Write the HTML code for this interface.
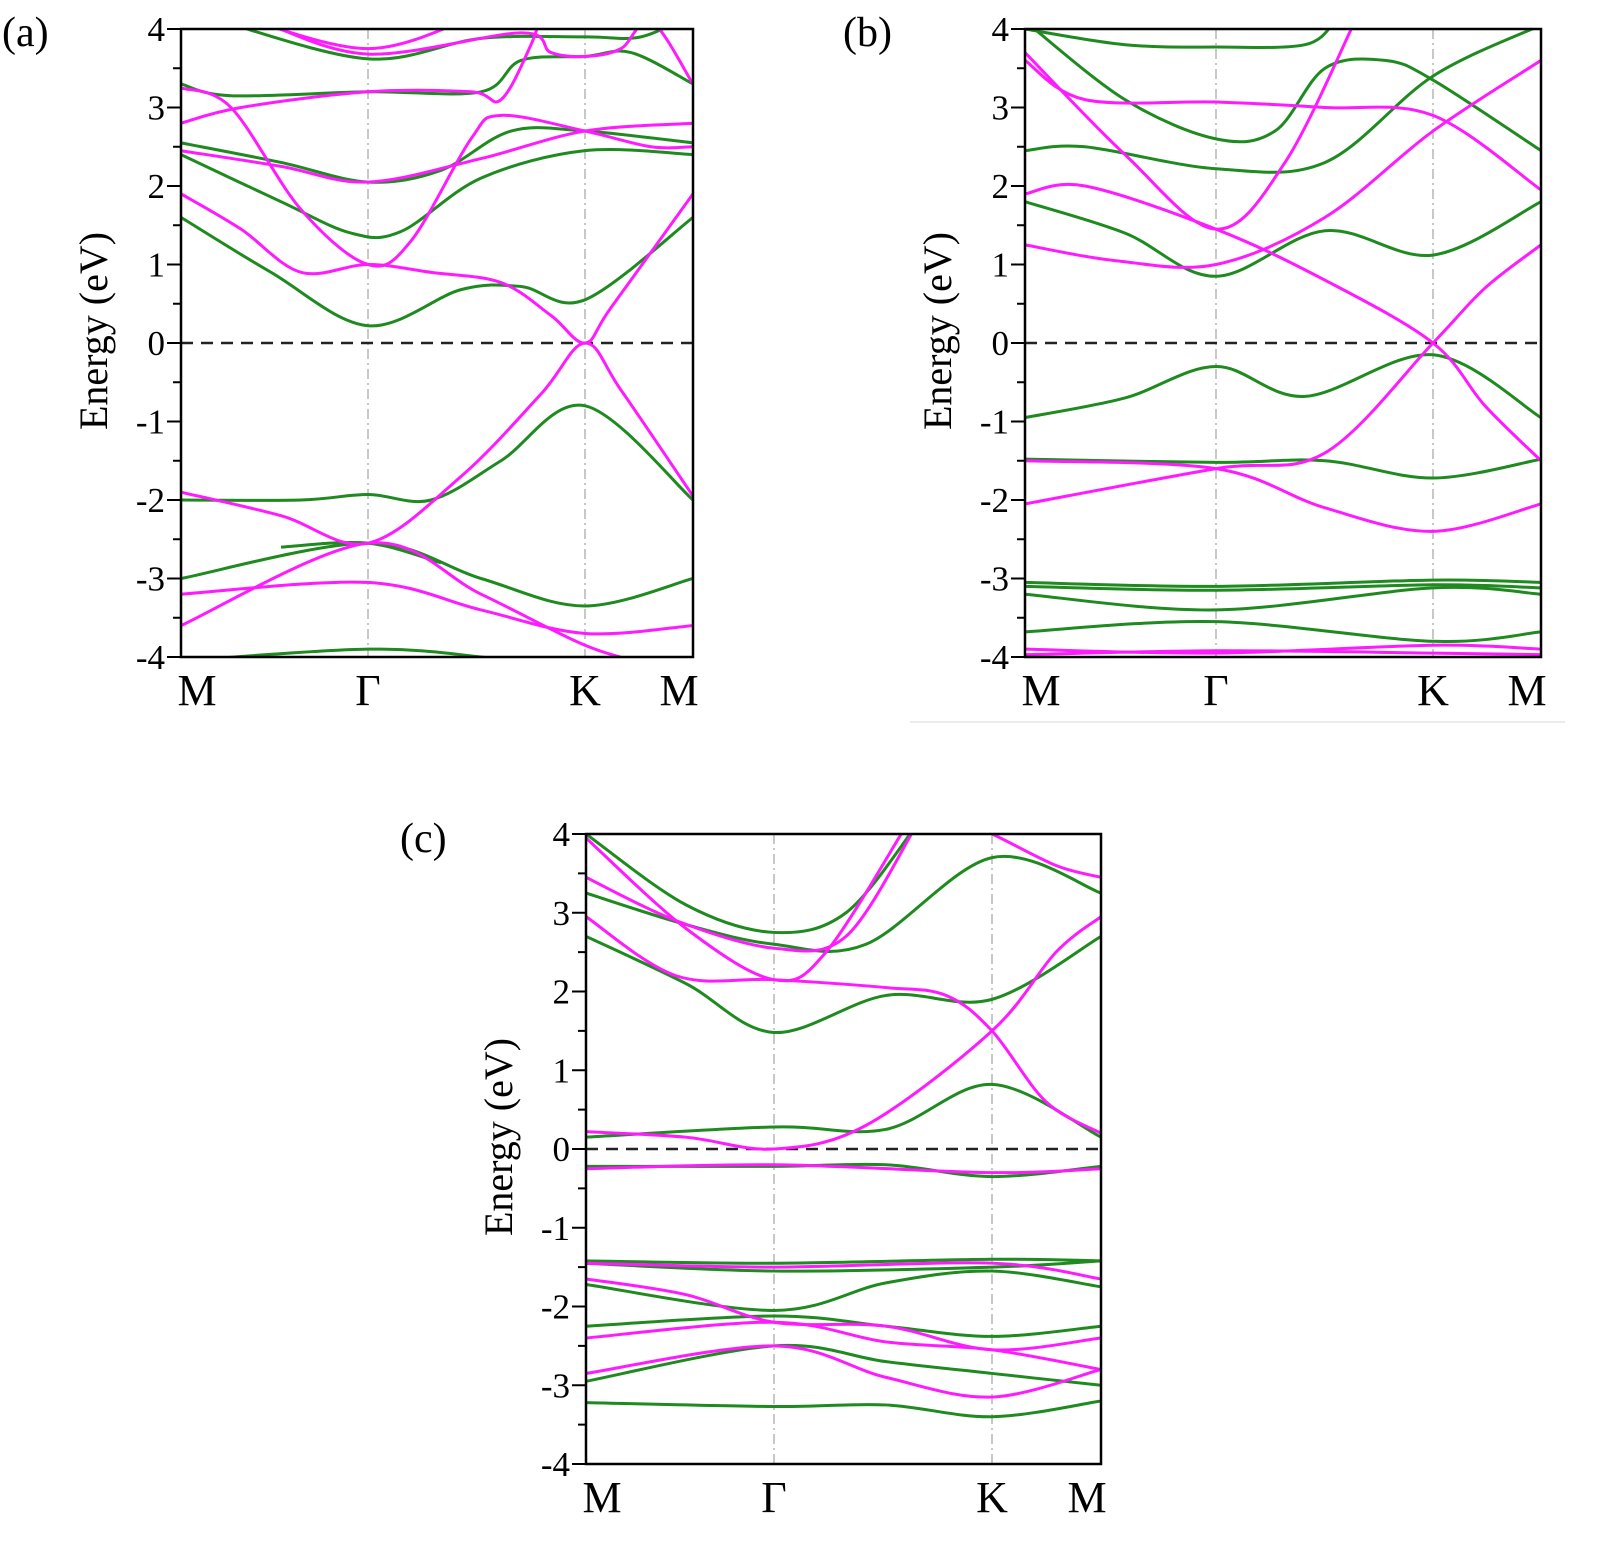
<!DOCTYPE html>
<html><head><meta charset="utf-8">
<style>
html,body{margin:0;padding:0;background:#fff;}
svg{display:block;}
text{font-family:"Liberation Serif",serif;fill:#000;}
</style></head>
<body>
<svg id="s" width="1600" height="1559" viewBox="0 0 1600 1559" xmlns="http://www.w3.org/2000/svg">
<line x1="910" y1="722" x2="1565" y2="722" stroke="#e6e6e6" stroke-width="1.5"/>
<text x="2" y="46" font-size="42">(a)</text>
<text x="843" y="46" font-size="42">(b)</text>
<text x="400" y="852" font-size="42">(c)</text>
</svg>
<script>
var NS="http://www.w3.org/2000/svg",S=document.getElementById("s");
function el(t,a,p){var e=document.createElementNS(NS,t);for(var k in a)e.setAttribute(k,a[k]);(p||S).appendChild(e);return e;}
function cr(pts){var d="M"+pts[0][0]+","+pts[0][1];for(var i=0;i<pts.length-1;i++){var p0=pts[i-1]||pts[i],p1=pts[i],p2=pts[i+1],p3=pts[i+2]||p2;
d+=" C"+(p1[0]+(p2[0]-p0[0])/6)+","+(p1[1]+(p2[1]-p0[1])/6)+" "+(p2[0]-(p3[0]-p1[0])/6)+","+(p2[1]-(p3[1]-p1[1])/6)+" "+p2[0]+","+p2[1];}return d;}
var cid=0;
function panel(P){
 var x0=P.x0,W=P.W,top=P.top,sc=P.sc,zy=top+4*sc,bot=top+8*sc;
 function X(x){return x0+x;}function Y(e){return zy-e*sc;}
 cid++;var c=el("clipPath",{id:"c"+cid});el("rect",{x:x0,y:top,width:W,height:8*sc},c);
 [P.G,P.K].forEach(function(g){el("line",{x1:X(g),y1:top,x2:X(g),y2:bot,stroke:"#aaa","stroke-width":1.3,"stroke-dasharray":"10,4,2,4"});});
 el("line",{x1:x0,y1:zy,x2:x0+W,y2:zy,stroke:"#222","stroke-width":2.5,"stroke-dasharray":"12,8"});
 var g=el("g",{"clip-path":"url(#c"+cid+")",fill:"none","stroke-width":3,"stroke-linejoin":"round"});
 function draw(list,col){list.forEach(function(b){el("path",{d:cr(b.map(function(p){return[X(p[0]),Y(p[1])];})),stroke:col},g);});}
 draw(P.g,"#1f8a1f");draw(P.m,"#ff1aff");
 el("rect",{x:x0,y:top,width:W,height:8*sc,fill:"none",stroke:"#000","stroke-width":2.5});
 for(var e=-4;e<=4;e+=0.5){var y=Y(e),maj=(e%1===0);
  el("line",{x1:x0-(maj?14:8),y1:y,x2:x0,y2:y,stroke:"#000","stroke-width":2});
  if(maj){var t=el("text",{x:x0-16,y:y+12,"font-size":35,"text-anchor":"end"});t.textContent=e;}}
 var t=el("text",{x:0,y:0,"font-size":40,"text-anchor":"middle",transform:"translate("+(x0-74)+","+(zy-12)+") rotate(-90)"});t.textContent="Energy (eV)";
 [[0,"M"],[P.G,"Γ"],[P.K,"K"],[W,"M"]].forEach(function(l,i){var xx=X(l[0]);if(i==0)xx+=16;if(i==3)xx-=14;
  var t=el("text",{x:xx,y:bot+48,"font-size":44,"text-anchor":"middle"});t.textContent=l[1];});
}
panel({x0:181,W:512,top:29,sc:78.5,G:187,K:404,
m:[[[0,1.9],[60,1.45],[120,0.9],[187,1.0],[250,0.9],[320,0.77],[370,0.35],[404,0],[430,0.45],[512,1.9]],
[[0,-1.9],[100,-2.2],[187,-2.55],[280,-1.7],[360,-0.65],[404,0],[440,-0.6],[512,-1.95]],
[[0,3.25],[50,3.0],[120,1.7],[187,1.0],[230,1.3],[290,2.6],[320,2.9],[404,2.7],[470,2.5],[512,2.5]],
[[0,2.8],[60,3.0],[187,3.2],[290,3.2],[320,3.1],[350,3.8],[360,4.2]],
[[0,2.45],[100,2.25],[187,2.05],[300,2.35],[404,2.7],[512,2.8]],
[[0,-3.2],[187,-3.05],[300,-3.4],[404,-3.7],[512,-3.6]],
[[0,-3.6],[187,-2.55],[300,-3.2],[404,-3.85],[470,-4.1]],
[[50,4.2],[187,3.75],[300,4.2]],[[80,4.1],[187,3.68],[340,3.95],[370,3.7],[404,3.65],[440,3.75],[470,4.1],[512,3.3]]],
g:[[[0,1.6],[90,0.9],[187,0.22],[280,0.68],[340,0.72],[404,0.55],[512,1.6]],
[[0,-2],[120,-2],[187,-1.93],[250,-2],[320,-1.5],[404,-0.8],[512,-2.0]],
[[0,2.4],[100,1.8],[170,1.4],[220,1.42],[300,2.1],[404,2.45],[512,2.4]],
[[0,2.55],[100,2.3],[187,2.05],[260,2.2],[330,2.7],[404,2.7],[512,2.55]],
[[0,3.3],[50,3.15],[187,3.2],[300,3.2],[340,3.6],[404,3.65],[450,3.7],[512,3.3]],
[[0,-3],[187,-2.55],[300,-3.0],[404,-3.35],[512,-3.0]],
[[100,-2.6],[187,-2.55],[260,-2.8]],
[[0,-4.05],[187,-3.9],[300,-4.0],[340,-4.1]],
[[40,4.1],[187,3.62],[300,3.88],[404,3.9],[460,3.9],[512,4.2]]]});
panel({x0:1025,W:516,top:29,sc:78.5,G:191,K:408,
m:[[[0,1.9],[60,2.0],[191,1.45],[300,0.8],[408,0],[460,-0.8],[516,-1.5]],
[[0,-2.05],[191,-1.6],[300,-1.4],[408,0],[460,0.7],[516,1.25]],
[[0,1.25],[90,1.05],[191,1.0],[300,1.6],[408,2.7],[516,3.6]],
[[0,3.7],[100,2.4],[191,1.45],[260,2.3],[330,4.1]],
[[0,3.6],[60,3.1],[191,3.07],[300,3.0],[408,2.9],[516,1.95]],
[[0,-1.5],[191,-1.6],[300,-2.1],[408,-2.4],[516,-2.05]],
[[0,-3.9],[191,-3.95],[408,-3.85],[516,-3.9]],[[0,-3.97],[191,-3.92],[408,-3.95],[516,-3.97]]],
g:[[[0,-0.95],[100,-0.7],[191,-0.3],[280,-0.68],[408,-0.15],[516,-0.95]],
[[0,-1.48],[191,-1.52],[300,-1.5],[408,-1.72],[516,-1.48]],
[[0,1.8],[100,1.4],[191,0.85],[300,1.43],[408,1.12],[516,1.8]],
[[0,2.45],[60,2.5],[191,2.22],[300,2.3],[408,3.4],[516,4.05]],
[[0,4.1],[100,3.1],[191,2.6],[250,2.7],[300,3.5],[360,3.6],[408,3.35],[516,2.45]],
[[0,4.0],[100,3.8],[191,3.77],[280,3.8],[310,4.1]],
[[0,-3.05],[191,-3.1],[408,-3.02],[516,-3.05]],[[0,-3.1],[191,-3.15],[408,-3.08],[516,-3.12]],
[[0,-3.2],[191,-3.4],[408,-3.12],[516,-3.2]],[[0,-3.68],[191,-3.55],[408,-3.8],[516,-3.68]]]});
panel({x0:586,W:515,top:834,sc:78.75,G:188,K:406,
m:[[[0,0.22],[100,0.15],[188,0],[280,0.3],[406,1.5],[470,2.5],[515,2.95]],
[[0,2.95],[90,2.2],[188,2.15],[300,2.05],[360,1.95],[406,1.5],[460,0.6],[515,0.2]],
[[0,3.45],[90,2.9],[188,2.55],[260,2.7],[330,4.1]],
[[0,3.95],[100,2.8],[188,2.15],[240,2.5],[320,4.1]],
[[380,4.1],[406,4.0],[470,3.6],[515,3.45]],
[[0,-1.65],[100,-1.85],[188,-2.2],[300,-2.25],[406,-2.55],[515,-2.4]],
[[0,-2.4],[188,-2.2],[300,-2.45],[406,-2.55],[515,-2.8]],
[[0,-2.85],[188,-2.5],[300,-2.9],[406,-3.15],[515,-2.8]],
[[0,-0.25],[188,-0.2],[406,-0.3],[515,-0.25]],
[[0,-1.45],[188,-1.5],[406,-1.45],[515,-1.65]]],
g:[[[0,0.15],[188,0.28],[300,0.25],[406,0.82],[515,0.15]],
[[0,-0.22],[188,-0.22],[300,-0.2],[406,-0.35],[515,-0.22]],
[[0,2.7],[100,2.1],[188,1.48],[300,1.95],[406,1.9],[515,2.7]],
[[0,3.25],[100,2.85],[188,2.6],[280,2.6],[406,3.7],[515,3.25]],
[[0,4.0],[100,3.1],[188,2.75],[260,3.0],[330,4.1]],
[[0,-1.42],[188,-1.45],[406,-1.4],[515,-1.42]],
[[0,-1.45],[188,-1.55],[406,-1.5],[515,-1.42]],
[[0,-1.72],[188,-2.05],[300,-1.7],[406,-1.55],[515,-1.75]],
[[0,-2.25],[188,-2.12],[300,-2.25],[406,-2.38],[515,-2.25]],
[[0,-2.95],[188,-2.5],[300,-2.7],[406,-2.85],[515,-3.0]],
[[0,-3.22],[188,-3.27],[300,-3.25],[406,-3.4],[515,-3.2]]]});
</script>
</body></html>
